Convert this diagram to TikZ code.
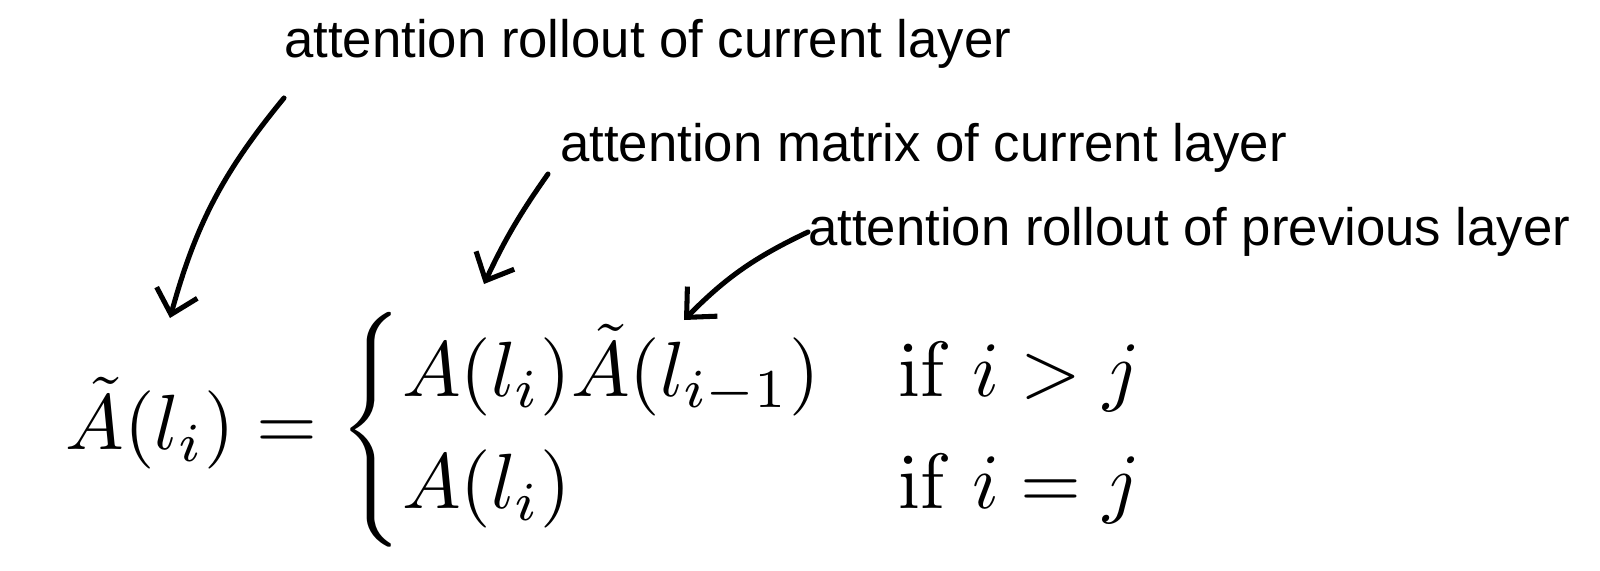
\documentclass[tikz,border=0pt]{standalone}
\usepackage{amsmath, amssymb}
\usepackage[no-math]{fontspec}
\setmainfont{Liberation Sans}
\usetikzlibrary{arrows.meta}

\begin{document}
\begin{tikzpicture}[
    lbl/.style={font=\fontsize{37.5}{44}\selectfont, inner sep=0pt},
    hand/.style={line width=3.6pt, line cap=round, -{Straight Barb[length=16pt, width=30pt, line width=3.6pt]}}
]
    \useasboundingbox (0,0) rectangle (40,14.25);

    % Labels
    \node[lbl, anchor=west] (rollcur) at (7.1,13.15) {attention rollout of current layer};
    \node[lbl, anchor=west] (matcur) at (14.0,10.55) {attention matrix of current layer};
    \node[lbl, anchor=west] (rollprev) at (20.2,8.45) {attention rollout of previous layer};

    % Formula
    \node[anchor=west, inner sep=0pt, scale=5.57] (eq) at (1.6,3.5)
        {$\tilde{A}(l_i) = \begin{cases} A(l_i)\tilde{A}(l_{i-1}) & \mathrm{if}\ i > j\\
        A(l_i) & \mathrm{if}\ i = j \end{cases}$};

    % Arrow ends
    \coordinate (s1) at (7.1,11.8);
    \coordinate (t1) at (4.25,6.3);
    \coordinate (s2) at (13.7,9.9);
    \coordinate (t2) at (12.1,7.15);
    \coordinate (s3) at (rollprev.west);
    \coordinate (t3) at (17.1,6.25);

    % Hand-drawn arrows
    \draw[hand] (s1) to[bend right=12] (t1);
    \draw[hand] (s2) to[bend right=5] (t2);
    \draw[hand] (s3) to[bend right=10] (t3);
\end{tikzpicture}
\end{document}
